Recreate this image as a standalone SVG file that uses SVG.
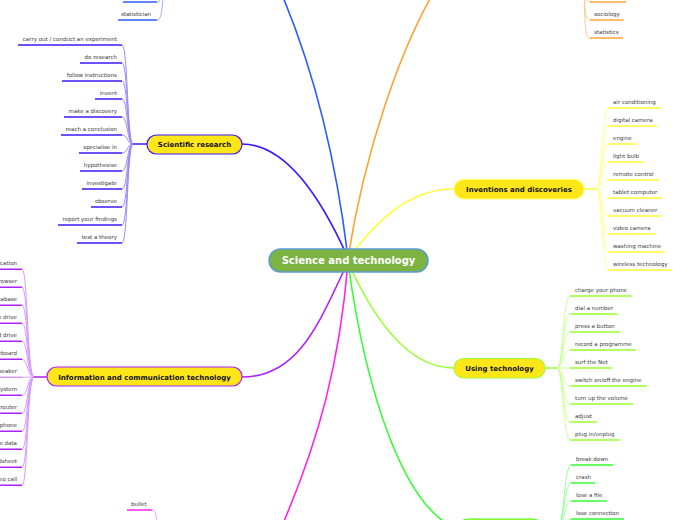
<svg xmlns="http://www.w3.org/2000/svg" width="697" height="520" viewBox="0 0 697 520">
<style>
.lbl{font-family:"DejaVu Sans",Verdana,sans-serif;font-size:5.5px;fill:#3a3a3a}
.end{text-anchor:end}
.main{font-family:"DejaVu Sans",Verdana,sans-serif;font-size:7px;font-weight:bold;fill:#111;text-anchor:middle}
.root{font-family:"DejaVu Sans",Verdana,sans-serif;font-size:10px;font-weight:bold;fill:#fff;text-anchor:middle}
.ml{fill:none;stroke-width:1.6}
.cv{fill:none;stroke-width:1}
.ul{fill:none;stroke-width:1.5}
.yn{fill:#ffe619;stroke-width:1.2}
</style>
<g id="connectors">
<path class="ml" stroke="#2a5cff" d="M348,258 C335,150 310,60 280,-10"/>
<path class="ml" stroke="#3a1aff" d="M348,258 C320,195 285,144 242,144"/>
<path class="ml" stroke="#ffa330" d="M348,258 C365,150 400,50 435,-10"/>
<path class="ml" stroke="#ffff33" d="M348,258 C375,225 405,189 454,189"/>
<path class="ml" stroke="#99ff33" d="M348,262 C365,300 400,368 454,368"/>
<path class="ml" stroke="#33ff33" d="M348,262 C366,395 405,510 458,529"/>
<path class="ml" stroke="#ff22ee" d="M348,262 C340,360 320,440 278,535"/>
<path class="ml" stroke="#aa22ff" d="M348,262 C320,320 300,377 242,377"/>
<!-- branch stems -->
<path class="ul" stroke="#3a1aff" d="M147,144 H133"/>
<path class="ul" stroke="#aa22ff" d="M47,377 H34"/>
<path class="ul" stroke="#ffff33" d="M584,189 H596"/>
<path class="ul" stroke="#99ff33" d="M545,368 H557"/>
<!-- sci curves -->
<g stroke="#9988ff" class="cv">
<path d="M122,45 C128,45 127,144 133,144"/>
<path d="M122,63 C128,63 127,144 133,144"/>
<path d="M122,81 C128,81 127,144 133,144"/>
<path d="M122,99 C128,99 127,144 133,144"/>
<path d="M122,117 C128,117 127,144 133,144"/>
<path d="M122,135 C128,135 127,144 133,144"/>
<path d="M122,153 C128,153 127,144 133,144"/>
<path d="M122,171 C128,171 127,144 133,144"/>
<path d="M122,189 C128,189 127,144 133,144"/>
<path d="M122,207 C128,207 127,144 133,144"/>
<path d="M122,225 C128,225 127,144 133,144"/>
<path d="M122,243 C128,243 127,144 133,144"/>
</g>
<!-- ict curves -->
<g stroke="#d699ff" class="cv">
<path d="M22,269.3 C28,269.3 27,377 34,377"/>
<path d="M22,287.3 C28,287.3 27,377 34,377"/>
<path d="M22,305.3 C28,305.3 27,377 34,377"/>
<path d="M22,323.3 C28,323.3 27,377 34,377"/>
<path d="M22,341.3 C28,341.3 27,377 34,377"/>
<path d="M22,359.3 C28,359.3 27,377 34,377"/>
<path d="M22,377.3 C28,377.3 27,377 34,377"/>
<path d="M22,395.3 C28,395.3 27,377 34,377"/>
<path d="M22,413.3 C28,413.3 27,377 34,377"/>
<path d="M22,431.3 C28,431.3 27,377 34,377"/>
<path d="M22,449.3 C28,449.3 27,377 34,377"/>
<path d="M22,467.3 C28,467.3 27,377 34,377"/>
<path d="M22,485.3 C28,485.3 27,377 34,377"/>
</g>
<!-- inventions curves -->
<g stroke="#ffff99" class="cv">
<path d="M608,108 C602,108 602,189 596,189"/>
<path d="M608,126 C602,126 602,189 596,189"/>
<path d="M608,144 C602,144 602,189 596,189"/>
<path d="M608,162 C602,162 602,189 596,189"/>
<path d="M608,180 C602,180 602,189 596,189"/>
<path d="M608,198 C602,198 602,189 596,189"/>
<path d="M608,216 C602,216 602,189 596,189"/>
<path d="M608,234 C602,234 602,189 596,189"/>
<path d="M608,252 C602,252 602,189 596,189"/>
<path d="M608,270 C602,270 602,189 596,189"/>
</g>
<!-- using tech curves -->
<g stroke="#ccff99" class="cv">
<path d="M570,296 C563,296 563,368 557,368"/>
<path d="M570,314 C563,314 563,368 557,368"/>
<path d="M570,332 C563,332 563,368 557,368"/>
<path d="M570,350 C563,350 563,368 557,368"/>
<path d="M570,368 C563,368 563,368 557,368"/>
<path d="M570,386 C563,386 563,368 557,368"/>
<path d="M570,404 C563,404 563,368 557,368"/>
<path d="M570,422 C563,422 563,368 557,368"/>
<path d="M570,440 C563,440 563,368 557,368"/>
</g>
<!-- green curves -->
<g stroke="#99ff99" class="cv">
<path d="M571,465 C564,465 564,529 557,529"/>
<path d="M571,483 C564,483 564,529 557,529"/>
<path d="M571,501 C564,501 564,529 557,529"/>
<path d="M571,519 C564,519 564,529 557,529"/>
</g>
<!-- partial branches -->
<g stroke="#99aaff" class="cv">
<path d="M157,20 C162,20 162,8 164,-12"/>
<path d="M157,2 C161,2 162,-4 163,-12"/>
</g>
<g stroke="#ffcc88" class="cv">
<path d="M590,38 C585,38 585,25 584,-12"/>
<path d="M590,20 C585,20 585,10 584,-12"/>
<path d="M590,2 C586,2 585,-4 584,-12"/>
</g>
<path class="cv" stroke="#ff99ff" d="M152,510 C156,510 156,516 157,525"/>
</g>

<g id="root">
<rect x="269" y="249" width="159" height="23" rx="11.5" fill="#7cb342" stroke="#5b9bd5" stroke-width="1.5"/>
<text class="root" x="348.5" y="264">Science and technology</text>
</g>

<g id="scientific-research">
<rect class="yn" x="147" y="135" width="95" height="19" rx="9.5" stroke="#3a1aff"/>
<text class="main" x="194.5" y="146.5">Scientific research</text>
</g>
<g id="ict">
<rect class="yn" x="47" y="367" width="195" height="19" rx="9.5" stroke="#aa22ff"/>
<text class="main" x="144.5" y="379.5">Information and communication technology</text>
</g>
<g id="inventions">
<rect class="yn" x="454" y="179.5" width="130" height="19.5" rx="9.75" stroke="#ffff66"/>
<text class="main" x="519" y="191.5">Inventions and discoveries</text>
</g>
<g id="using-technology">
<rect class="yn" x="454" y="358.5" width="91" height="19.5" rx="9.75" stroke="#99ff33"/>
<text class="main" x="499.5" y="370.5">Using technology</text>
</g>
<g id="problems">
<rect class="yn" x="458" y="519" width="85" height="20" rx="10" stroke="#33ff33"/>
</g>

<g id="sci-children">
<g id="s1"><path class="ul" stroke="#3a1aff" d="M18,45 H122"/><text class="lbl end" x="117" y="41">carry out / conduct an experiment</text></g>
<g id="s2"><path class="ul" stroke="#3a1aff" d="M80,63 H122"/><text class="lbl end" x="117" y="59">do research</text></g>
<g id="s3"><path class="ul" stroke="#3a1aff" d="M62,81 H122"/><text class="lbl end" x="117" y="77">follow instructions</text></g>
<g id="s4"><path class="ul" stroke="#3a1aff" d="M95,99 H122"/><text class="lbl end" x="117" y="95">invent</text></g>
<g id="s5"><path class="ul" stroke="#3a1aff" d="M64,117 H122"/><text class="lbl end" x="117" y="113">make a discovery</text></g>
<g id="s6"><path class="ul" stroke="#3a1aff" d="M61,135 H122"/><text class="lbl end" x="117" y="131">reach a conclusion</text></g>
<g id="s7"><path class="ul" stroke="#3a1aff" d="M79,153 H122"/><text class="lbl end" x="117" y="149">specialise in</text></g>
<g id="s8"><path class="ul" stroke="#3a1aff" d="M80,171 H122"/><text class="lbl end" x="117" y="167">hypothesise</text></g>
<g id="s9"><path class="ul" stroke="#3a1aff" d="M82,189 H122"/><text class="lbl end" x="117" y="185">investigate</text></g>
<g id="s10"><path class="ul" stroke="#3a1aff" d="M91,207 H122"/><text class="lbl end" x="117" y="203">observe</text></g>
<g id="s11"><path class="ul" stroke="#3a1aff" d="M58,225 H122"/><text class="lbl end" x="117" y="221">report your findings</text></g>
<g id="s12"><path class="ul" stroke="#3a1aff" d="M77,243 H122"/><text class="lbl end" x="117" y="239">test a theory</text></g>
</g>

<g id="ict-children">
<g id="i1"><path class="ul" stroke="#aa22ff" d="M-40,269.3 H22"/><text class="lbl end" x="17" y="265.3">application</text></g>
<g id="i2"><path class="ul" stroke="#aa22ff" d="M-40,287.3 H22"/><text class="lbl end" x="17" y="283.3">browser</text></g>
<g id="i3"><path class="ul" stroke="#aa22ff" d="M-40,305.3 H22"/><text class="lbl end" x="17" y="301.3">database</text></g>
<g id="i4"><path class="ul" stroke="#aa22ff" d="M-40,323.3 H22"/><text class="lbl end" x="17" y="319.3">flash drive</text></g>
<g id="i5"><path class="ul" stroke="#aa22ff" d="M-40,341.3 H22"/><text class="lbl end" x="17" y="337.3">hard drive</text></g>
<g id="i6"><path class="ul" stroke="#aa22ff" d="M-40,359.3 H22"/><text class="lbl end" x="17" y="355.3">keyboard</text></g>
<g id="i7"><path class="ul" stroke="#d699ff" d="M-40,377.3 H22"/><text class="lbl end" x="17" y="373.3">speaker</text></g>
<g id="i8"><path class="ul" stroke="#aa22ff" d="M-40,395.3 H22"/><text class="lbl end" x="17" y="391.3">operating system</text></g>
<g id="i9"><path class="ul" stroke="#aa22ff" d="M-40,413.3 H22"/><text class="lbl end" x="17" y="409.3">router</text></g>
<g id="i10"><path class="ul" stroke="#aa22ff" d="M-40,431.3 H22"/><text class="lbl end" x="17" y="427.3">smartphone</text></g>
<g id="i11"><path class="ul" stroke="#aa22ff" d="M-40,449.3 H22"/><text class="lbl end" x="17" y="445.3">store data</text></g>
<g id="i12"><path class="ul" stroke="#aa22ff" d="M-40,467.3 H22"/><text class="lbl end" x="17" y="463.3">spreadsheet</text></g>
<g id="i13"><path class="ul" stroke="#aa22ff" d="M-40,485.3 H22"/><text class="lbl end" x="17" y="481.3">video call</text></g>
</g>

<g id="inv-children">
<g id="v1"><path class="ul" stroke="#ffff33" d="M608,108 H661"/><text class="lbl" x="613" y="104">air conditioning</text></g>
<g id="v2"><path class="ul" stroke="#ffff33" d="M608,126 H657"/><text class="lbl" x="613" y="122">digital camera</text></g>
<g id="v3"><path class="ul" stroke="#ffff33" d="M608,144 H636"/><text class="lbl" x="613" y="140">engine</text></g>
<g id="v4"><path class="ul" stroke="#ffff33" d="M608,162 H644"/><text class="lbl" x="613" y="158">light bulb</text></g>
<g id="v5"><path class="ul" stroke="#ffff33" d="M608,180 H659"/><text class="lbl" x="613" y="176">remote control</text></g>
<g id="v6"><path class="ul" stroke="#ffff33" d="M608,198 H662"/><text class="lbl" x="613" y="194">tablet computer</text></g>
<g id="v7"><path class="ul" stroke="#ffff33" d="M608,216 H661"/><text class="lbl" x="613" y="212">vacuum cleaner</text></g>
<g id="v8"><path class="ul" stroke="#ffff33" d="M608,234 H655"/><text class="lbl" x="613" y="230">video camera</text></g>
<g id="v9"><path class="ul" stroke="#ffff33" d="M608,252 H665"/><text class="lbl" x="613" y="248">washing machine</text></g>
<g id="v10"><path class="ul" stroke="#ffff33" d="M608,270 H672"/><text class="lbl" x="613" y="266">wireless technology</text></g>
</g>

<g id="using-children">
<g id="u1"><path class="ul" stroke="#99ff33" d="M570,296 H632"/><text class="lbl" x="575" y="292">charge your phone</text></g>
<g id="u2"><path class="ul" stroke="#99ff33" d="M570,314 H618"/><text class="lbl" x="575" y="310">dial a number</text></g>
<g id="u3"><path class="ul" stroke="#99ff33" d="M570,332 H620"/><text class="lbl" x="575" y="328">press a button</text></g>
<g id="u4"><path class="ul" stroke="#99ff33" d="M570,350 H636"/><text class="lbl" x="575" y="346">record a programme</text></g>
<g id="u5"><path class="ul" stroke="#99ff33" d="M570,368 H612"/><text class="lbl" x="575" y="364">surf the Net</text></g>
<g id="u6"><path class="ul" stroke="#99ff33" d="M570,386 H647"/><text class="lbl" x="575" y="382">switch on/off the engine</text></g>
<g id="u7"><path class="ul" stroke="#99ff33" d="M570,404 H633"/><text class="lbl" x="575" y="400">turn up the volume</text></g>
<g id="u8"><path class="ul" stroke="#99ff33" d="M570,422 H597"/><text class="lbl" x="575" y="418">adjust</text></g>
<g id="u9"><path class="ul" stroke="#99ff33" d="M570,440 H620"/><text class="lbl" x="575" y="436">plug in/unplug</text></g>
</g>

<g id="problem-children">
<g id="p1"><path class="ul" stroke="#33ff33" d="M571,465 H613"/><text class="lbl" x="576" y="461">break down</text></g>
<g id="p2"><path class="ul" stroke="#33ff33" d="M571,483 H595"/><text class="lbl" x="576" y="479">crash</text></g>
<g id="p3"><path class="ul" stroke="#33ff33" d="M571,501 H607"/><text class="lbl" x="576" y="497">lose a file</text></g>
<g id="p4"><path class="ul" stroke="#33ff33" d="M571,519 H624"/><text class="lbl" x="576" y="515">lose connection</text></g>
</g>

<g id="top-left-children">
<path class="ul" stroke="#2a5cff" d="M123,2 H157"/>
<g id="t1"><path class="ul" stroke="#2a5cff" d="M118,20 H157"/><text class="lbl end" x="151" y="16">statistician</text></g>
</g>
<g id="top-right-children">
<path class="ul" stroke="#ffa330" d="M590,2 H626"/>
<g id="r1"><path class="ul" stroke="#ffa330" d="M590,20 H624"/><text class="lbl" x="594" y="16">sociology</text></g>
<g id="r2"><path class="ul" stroke="#ffa330" d="M590,38 H623"/><text class="lbl" x="594" y="34">statistics</text></g>
</g>
<g id="bottom-children">
<g id="b1"><path class="ul" stroke="#ff22ee" d="M127,510 H152"/><text class="lbl" x="131" y="506">bullet</text></g>
</g>
</svg>
